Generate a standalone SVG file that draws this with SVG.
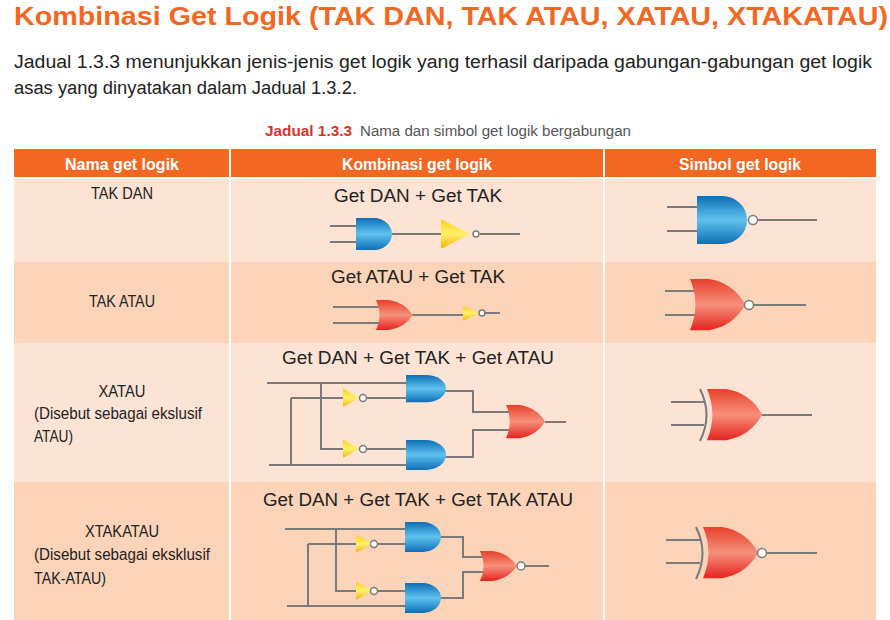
<svg xmlns="http://www.w3.org/2000/svg" width="890" height="620" viewBox="0 0 890 620">
<defs>
<linearGradient id="gb" x1="0" y1="0" x2="0" y2="1"><stop offset="0" stop-color="#0d6fb5"/><stop offset="0.5" stop-color="#5fc2ef"/><stop offset="1" stop-color="#0d6fb5"/></linearGradient>
<linearGradient id="gr" x1="0" y1="0" x2="0" y2="1"><stop offset="0" stop-color="#e8402c"/><stop offset="0.5" stop-color="#f6907a"/><stop offset="1" stop-color="#e5231f"/></linearGradient>
<linearGradient id="gy" x1="0" y1="0" x2="0" y2="1"><stop offset="0" stop-color="#f8d21c"/><stop offset="0.5" stop-color="#fff06a"/><stop offset="1" stop-color="#f2b60f"/></linearGradient>
<path id="and" d="M0,0 H20 A20,20 0 0 1 20,40 H0 Z" fill="url(#gb)"/>
<path id="or" d="M0,0 H16 Q36,3 46,20 Q36,37 16,40 H0 Q9,20 0,0 Z" fill="url(#gr)"/>
<path id="not" d="M0,0 L1,0 L16,8 L1,16 L0,16 Z" fill="url(#gy)"/>
</defs>
<style>
text{font-family:"Liberation Sans",Arial,sans-serif}
.w{stroke:#7a7a7a;stroke-width:2;fill:none}
.b{fill:#fff;stroke:#7a7a7a;stroke-width:1.5}
.h{fill:#fff;font-weight:bold;font-size:16px;text-anchor:middle}
.c{fill:#222;font-size:18px;text-anchor:middle}
.n{fill:#222;font-size:16px}
.nm{fill:#222;font-size:16px;text-anchor:middle}
</style>
<rect width="890" height="620" fill="#fff"/>
<text x="14" y="25" font-size="26" font-weight="bold" fill="#f26722" textLength="874" lengthAdjust="spacingAndGlyphs">Kombinasi Get Logik (TAK DAN, TAK ATAU, XATAU, XTAKATAU)</text>
<text x="14" y="68" font-size="18" fill="#222" textLength="858" lengthAdjust="spacingAndGlyphs">Jadual 1.3.3 menunjukkan jenis-jenis get logik yang terhasil daripada gabungan-gabungan get logik</text>
<text x="14" y="94" font-size="18" fill="#222" textLength="343" lengthAdjust="spacingAndGlyphs">asas yang dinyatakan dalam Jadual 1.3.2.</text>
<text x="265" y="136" font-size="14" font-weight="bold" fill="#d9342b" textLength="87" lengthAdjust="spacingAndGlyphs">Jadual 1.3.3</text>
<text x="360" y="136" font-size="14" fill="#555" textLength="271" lengthAdjust="spacingAndGlyphs">Nama dan simbol get logik bergabungan</text>

<g id="table">
<rect x="14" y="149" width="862" height="29" fill="#f26722"/>
<rect x="14" y="178" width="862" height="84" fill="#fde3d4"/>
<rect x="14" y="262" width="862" height="81" fill="#fbd3b8"/>
<rect x="14" y="343" width="862" height="139" fill="#fde3d4"/>
<rect x="14" y="482" width="862" height="138" fill="#fbd3b8"/>
<g stroke="#fff" stroke-width="2"><line x1="230" y1="149" x2="230" y2="620"/><line x1="604" y1="149" x2="604" y2="620"/><line x1="14" y1="178" x2="876" y2="178"/></g>
<text class="h" x="122" y="170" textLength="114" lengthAdjust="spacingAndGlyphs">Nama get logik</text>
<text class="h" x="417" y="170" textLength="150" lengthAdjust="spacingAndGlyphs">Kombinasi get logik</text>
<text class="h" x="740" y="170" textLength="122" lengthAdjust="spacingAndGlyphs">Simbol get logik</text>
</g>

<g id="names">
<text class="nm" x="122" y="199" textLength="62" lengthAdjust="spacingAndGlyphs">TAK DAN</text>
<text class="nm" x="122" y="307" textLength="66" lengthAdjust="spacingAndGlyphs">TAK ATAU</text>
<text class="nm" x="122" y="397" textLength="47" lengthAdjust="spacingAndGlyphs">XATAU</text>
<text class="n" x="34" y="419" textLength="168" lengthAdjust="spacingAndGlyphs">(Disebut sebagai ekslusif</text>
<text class="n" x="34" y="442" textLength="39" lengthAdjust="spacingAndGlyphs">ATAU)</text>
<text class="nm" x="122" y="537" textLength="74" lengthAdjust="spacingAndGlyphs">XTAKATAU</text>
<text class="n" x="34" y="560" textLength="176" lengthAdjust="spacingAndGlyphs">(Disebut sebagai eksklusif</text>
<text class="n" x="34" y="584" textLength="72" lengthAdjust="spacingAndGlyphs">TAK-ATAU)</text>
</g>

<g id="combo-labels">
<text class="c" x="418" y="202" textLength="168" lengthAdjust="spacingAndGlyphs">Get DAN + Get TAK</text>
<text class="c" x="418" y="283" textLength="174" lengthAdjust="spacingAndGlyphs">Get ATAU + Get TAK</text>
<text class="c" x="418" y="364" textLength="272" lengthAdjust="spacingAndGlyphs">Get DAN + Get TAK + Get ATAU</text>
<text class="c" x="418" y="506" textLength="310" lengthAdjust="spacingAndGlyphs">Get DAN + Get TAK + Get TAK ATAU</text>
</g>

<g id="connectors">
<path class="w" d="M330,226H358M330,242H358M390,234H442M480,234H520"/>
<path class="w" d="M333,307H380M333,323H380M410,315H463M485,313H500"/>
<path class="w" d="M267,383H408M321,383V449H344M362,398H408M291,398H343M291,398V465M269,465H408M362,449H408M445,391H473V412H510M445,457H473V430H510M545,422H566"/>
<path class="w" d="M285,529H407M336,529V591H356M378,544H407M308,544H356M308,544V606M287,606H407M378,591H407M440,537H463V557H484M440,598H463V572H484M524,566H549"/>
<path class="w" d="M667,207H699M667,231H699M757,220H817"/>
<path class="w" d="M665,291H697M665,315H697M753,305H806"/>
<path class="w" d="M671,402H704M671,425H704M760,415H812M700,389Q713,415 700,441"/>
<path class="w" d="M666,540H700M666,563H700M765,553H817M696,527Q709,553 696,579"/>
</g>

<g id="gate-row1">
<use href="#and" transform="translate(356,218) scale(0.9,0.8)"/>
<use href="#not" transform="translate(441,220) scale(1.8,1.75)"/>
<circle class="b" cx="476" cy="234" r="3"/>
</g>
<g id="gate-row2">
<use href="#or" transform="translate(376,300) scale(0.8,0.75)"/>
<use href="#not" transform="translate(463,306) scale(1,0.9)"/>
<circle class="b" cx="482" cy="313" r="3"/>
</g>
<g id="gate-row3">
<use href="#and" transform="translate(406,375) scale(1,0.68)"/>
<use href="#and" transform="translate(406,440) scale(1,0.75)"/>
<use href="#not" transform="translate(343,389) scale(1,1.1)"/>
<circle class="b" cx="363" cy="398" r="3.5"/>
<use href="#not" transform="translate(343,440) scale(1,1.1)"/>
<circle class="b" cx="363" cy="449" r="3.5"/>
<use href="#or" transform="translate(506,405) scale(0.85,0.83)"/>
</g>
<g id="gate-row4">
<use href="#and" transform="translate(405,522) scale(0.9,0.75)"/>
<use href="#and" transform="translate(405,583) scale(0.9,0.75)"/>
<use href="#not" transform="translate(356,535) scale(1,1.1)"/>
<circle class="b" cx="374" cy="544" r="3.5"/>
<use href="#not" transform="translate(356,582) scale(1,1.1)"/>
<circle class="b" cx="374" cy="591" r="3.5"/>
<use href="#or" transform="translate(480,551) scale(0.8,0.75)"/>
<circle class="b" cx="521" cy="566" r="4"/>
</g>
<g id="sym-nand">
<use href="#and" transform="translate(697,196) scale(1.25,1.2)"/>
<circle class="b" cx="753" cy="220" r="4.5"/>
</g>
<g id="sym-nor">
<use href="#or" transform="translate(690,279) scale(1.2,1.28)"/>
<circle class="b" cx="749" cy="305" r="4.5"/>
</g>
<g id="sym-xor">
<use href="#or" transform="translate(707,389) scale(1.2,1.28)"/>
</g>
<g id="sym-xnor">
<use href="#or" transform="translate(703,527) scale(1.2,1.28)"/>
<circle class="b" cx="762" cy="553" r="4.5"/>
</g>
</svg>
